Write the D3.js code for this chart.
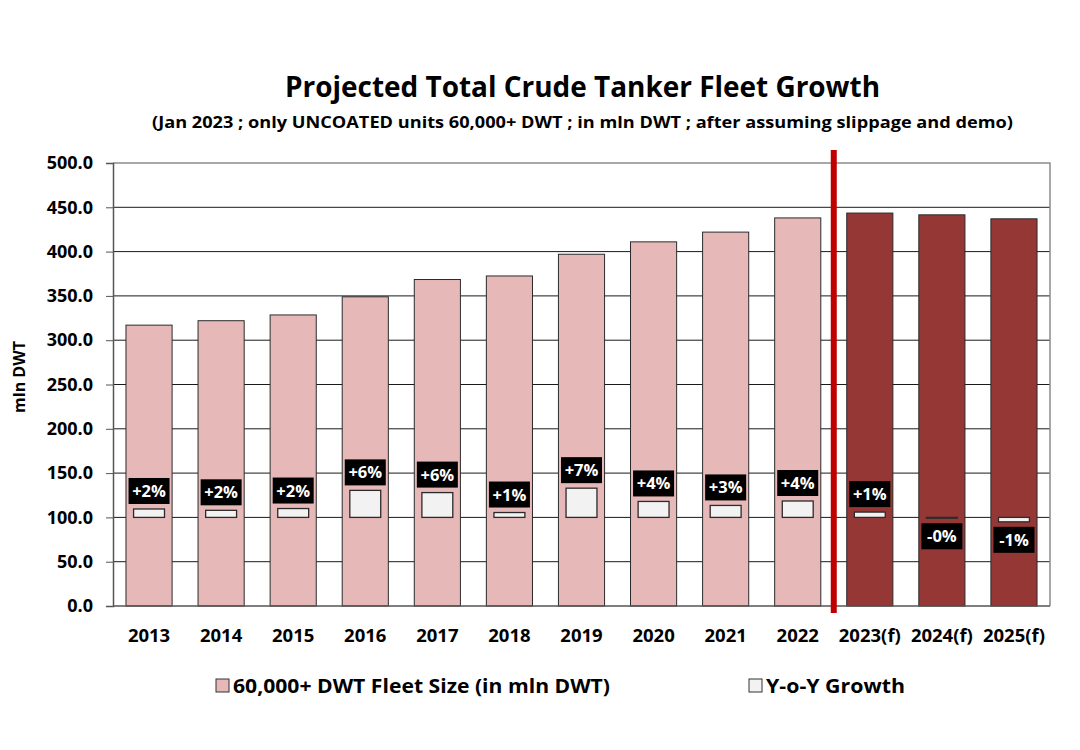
<!DOCTYPE html>
<html>
<head>
<meta charset="utf-8">
<script src="https://cdn.jsdelivr.net/npm/d3@7"></script>
<style>
  body { margin: 0; background: #fff; }
  svg { font-family: "Open Sans", Lato, sans-serif; font-weight: bold; }
</style>
</head>
<body>
<svg id="chart" width="1080" height="750"></svg>
<script>
// values
const years = ['2013', '2014', '2015', '2016', '2017', '2018', '2019', '2020', '2021', '2022', '2023(f)', '2024(f)', '2025(f)'];
const fleetSize = [317, 322, 328.5, 349, 368.5, 372.5, 397, 411, 422, 438, 443.5, 441.5, 437];
const yoyGrowth = [1.9, 1.6, 2.0, 6.1, 5.6, 1.1, 6.6, 3.6, 2.7, 3.7, 1.2, -0.2, -1.0];
const forecast = [false, false, false, false, false, false, false, false, false, false, true, true, true];
const yTicks = [0, 50, 100, 150, 200, 250, 300, 350, 400, 450, 500];

const GROWTH_BASE = 100;   // growth boxes sit on the 100 line
const GROWTH_SCALE = 5;    // 1% growth drawn as 5 units

const svg = d3.select('#chart');
const plotLeft = 113, plotRight = 1050, plotTop = 163, plotBottom = 606;

const x = d3.scaleBand()
    .domain(years)
    .range([plotLeft, plotRight])
    .paddingInner(0.36)
    .paddingOuter(0.18);

const y = d3.scaleLinear()
    .domain([0, 500])
    .range([plotBottom, plotTop]);

// title
svg.append('text')
    .attr('x', 285).attr('y', 97)
    .attr('textLength', 595)
    .attr('lengthAdjust', 'spacingAndGlyphs')
    .style('font-size', '28px')
    .text('Projected Total Crude Tanker Fleet Growth');

svg.append('text')
    .attr('x', 152).attr('y', 128)
    .attr('textLength', 861)
    .attr('lengthAdjust', 'spacingAndGlyphs')
    .style('font-size', '15.5px')
    .text('(Jan 2023 ; only UNCOATED units 60,000+ DWT ; in mln DWT ; after assuming slippage and demo)');

// gridlines
svg.append('g')
    .selectAll('line')
    .data(yTicks.filter(d => d > 0 && d < 500))
    .join('line')
    .attr('x1', plotLeft).attr('x2', plotRight)
    .attr('y1', d => y(d)).attr('y2', d => y(d))
    .attr('stroke', '#1a1a1a')
    .attr('stroke-width', 1);

// plot border (top / right)
svg.append('path')
    .attr('d', `M${plotLeft},${plotTop}H${plotRight}V${plotBottom}`)
    .attr('fill', 'none')
    .attr('stroke', '#8c8c8c')
    .attr('stroke-width', 1.5);

// y axis
const yAxis = d3.axisLeft(y)
    .tickValues(yTicks)
    .tickFormat(d3.format('.1f'))
    .tickSize(7)
    .tickPadding(13);

const yg = svg.append('g')
    .attr('transform', `translate(${plotLeft},0)`)
    .call(yAxis);
yg.select('.domain').attr('stroke', '#555').attr('stroke-width', 1.5);
yg.selectAll('.tick line').attr('stroke', '#555');
yg.selectAll('.tick text')
    .style('font-size', '18px')
    .style('font-family', '"Open Sans", sans-serif')
    .style('font-weight', 'bold')
    .attr('fill', '#000');

svg.append('text')
    .attr('transform', `translate(25,${377}) rotate(-90)`)
    .attr('text-anchor', 'middle')
    .style('font-size', '16px')
    .text('mln DWT');

// fleet bars
svg.append('g')
    .selectAll('rect')
    .data(years)
    .join('rect')
    .attr('x', d => x(d))
    .attr('width', x.bandwidth())
    .attr('y', (d, i) => y(fleetSize[i]))
    .attr('height', (d, i) => plotBottom - y(fleetSize[i]))
    .attr('fill', (d, i) => forecast[i] ? '#953735' : '#e6b9b8')
    .attr('stroke', '#2b2b2b')
    .attr('stroke-width', 1);

// x axis line
svg.append('line')
    .attr('x1', plotLeft).attr('x2', plotRight)
    .attr('y1', plotBottom).attr('y2', plotBottom)
    .attr('stroke', '#555')
    .attr('stroke-width', 1.5);

// x labels
svg.append('g')
    .selectAll('text')
    .data(years)
    .join('text')
    .attr('x', d => x(d) + x.bandwidth() / 2)
    .attr('y', 642)
    .attr('text-anchor', 'middle')
    .style('font-size', '18.5px')
    .text(d => d);

// growth boxes
const boxW = x.bandwidth() * 0.67;
const growthTop = v => y(GROWTH_BASE + Math.max(v, 0) * GROWTH_SCALE);
const growthBottom = v => y(GROWTH_BASE + Math.min(v, 0) * GROWTH_SCALE);

svg.append('g')
    .selectAll('rect')
    .data(years)
    .join('rect')
    .attr('x', d => x(d) + (x.bandwidth() - boxW) / 2)
    .attr('width', boxW)
    .attr('y', (d, i) => growthTop(yoyGrowth[i]))
    .attr('height', (d, i) => growthBottom(yoyGrowth[i]) - growthTop(yoyGrowth[i]))
    .attr('fill', '#f2f2f2')
    .attr('stroke', '#2b2b2b')
    .attr('stroke-width', 1.3);

// growth labels
const fmtGrowth = v => (v < 0 ? '-' : '+') + Math.abs(Math.round(v)) + '%';
const lblW = 41, lblH = 26, gap = 5;

const labels = svg.append('g')
    .selectAll('g')
    .data(years)
    .join('g')
    .attr('transform', (d, i) => {
        const v = yoyGrowth[i];
        const cx = x(d) + x.bandwidth() / 2;
        const ty = v >= 0 ? growthTop(v) - gap - lblH : growthBottom(v) + gap;
        return `translate(${cx - lblW / 2},${ty})`;
    });

labels.append('rect')
    .attr('width', lblW)
    .attr('height', lblH)
    .attr('fill', '#000');

labels.append('text')
    .attr('x', lblW / 2)
    .attr('y', lblH / 2 + 6)
    .attr('text-anchor', 'middle')
    .attr('fill', '#fff')
    .style('font-size', '16.5px')
    .text((d, i) => fmtGrowth(yoyGrowth[i]));

// forecast divider
const divX = x(years[10]) - x.step() * x.paddingInner() / 2;
svg.append('line')
    .attr('x1', divX).attr('x2', divX)
    .attr('y1', 150).attr('y2', 613)
    .attr('stroke', '#c00000')
    .attr('stroke-width', 6);

// legend
const legend = [
    { label: '60,000+ DWT Fleet Size (in mln DWT)', fill: '#e6b9b8', x: 216, w: 377 },
    { label: 'Y-o-Y Growth', fill: '#f2f2f2', x: 749, w: 139 }
];
const lg = svg.append('g')
    .selectAll('g')
    .data(legend)
    .join('g')
    .attr('transform', d => `translate(${d.x},679)`);
lg.append('rect')
    .attr('width', 13).attr('height', 13)
    .attr('fill', d => d.fill)
    .attr('stroke', '#333')
    .attr('stroke-width', 1);
lg.append('text')
    .attr('x', 17).attr('y', 13.5)
    .attr('textLength', d => d.w)
    .attr('lengthAdjust', 'spacingAndGlyphs')
    .style('font-size', '19px')
    .text(d => d.label);
</script>
</body>
</html>
